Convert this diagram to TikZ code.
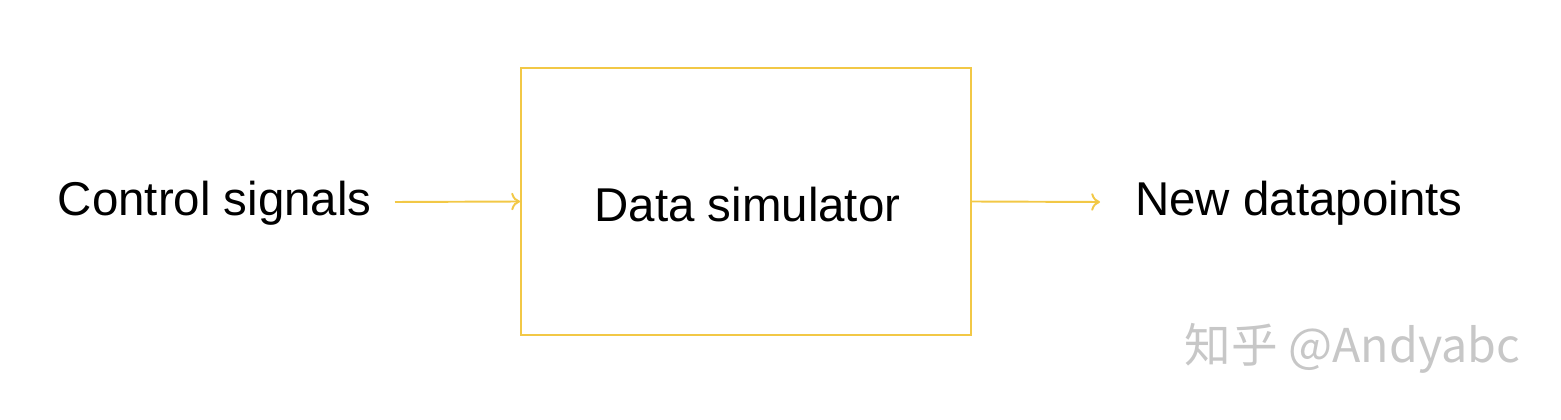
\documentclass[tikz,border=0pt]{standalone}
\usepackage{fontspec}
\setmainfont{Liberation Sans}
\newfontfamily\cjk{Noto Sans CJK SC}
\usetikzlibrary{positioning,arrows.meta}
\definecolor{simyellow}{RGB}{242,200,70}
\tikzset{lbl/.style={font=\fontsize{27}{32}\selectfont,inner sep=0pt},
	flow/.style={simyellow,line width=1.1pt,-{To[length=5pt,width=10pt]}}}
\begin{document}
\begin{tikzpicture}
	\useasboundingbox (0,0) rectangle (31.22,8.4);
	\node[draw=simyellow,line width=1.1pt,minimum width=9cm,minimum height=5.34cm] (sim) at (14.92,4.37) {};
	\node[lbl] (simtxt) at (14.95,4.31) {Data simulator};
	\node[lbl,anchor=east] (ctrl) at (7.44,4.33) {Control signals};
	\node[lbl,anchor=west] (new) at (22.7,4.33) {New datapoints};
	\coordinate (out) at (22.0,4.36);
	\draw[flow] (7.9,4.36) coordinate (in) -- (sim.west);
	\draw[flow] (sim.east) -- (out);
	\node[font=\cjk\fontsize{26.5}{30}\selectfont,text=black!22] (mark) at (27.05,1.44) {知乎 @Andyabc};
\end{tikzpicture}
\end{document}
